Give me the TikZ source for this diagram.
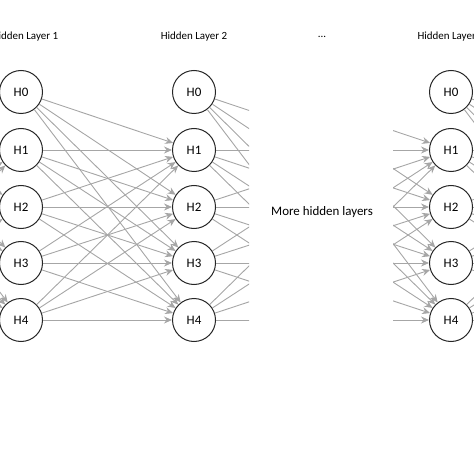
\documentclass[tikz,border=0pt]{standalone}
\usepackage{fontspec}
\setmainfont{Carlito}
\usetikzlibrary{arrows.meta}

\tikzset{
  neuron/.style={circle, draw=black!85, line width=1bp, minimum size=43bp, inner sep=0pt, font=\fontsize{13}{15}\selectfont},
  ghost/.style={circle, minimum size=43bp, inner sep=0pt},
  link/.style={draw=gray!70, line width=0.9bp, -{Stealth[length=8bp,width=7bp]}},
  title/.style={font=\fontsize{11}{13}\selectfont}
}

\begin{document}
\begin{tikzpicture}[x=1bp, y=-1bp]
        \useasboundingbox (0,0) rectangle (474,474);
        %%Layers
        \foreach \i/\y in {0/92,1/150,2/207,3/263,4/320}{
            \node[ghost] (in\i) at (-152,\y) {};
            \node[neuron] (a\i) at (21,\y) {H\i};
            \node[neuron] (b\i) at (194,\y) {H\i};
            \node[ghost] (u\i) at (367,\y) {};
            \node[ghost] (v\i) at (278,\y) {};
            \node[neuron] (c\i) at (451,\y) {H\i};
            \node[ghost] (out\i) at (624,\y) {};
        }
        %%Titles
        \node[title] (ta) at (25,37) {Hidden Layer 1};
        \node[title] (tb) at (194,37) {Hidden Layer 2};
        \node[title] (tdots) at (322,37) {...};
        \node[title, anchor=west] (tc) at (414,37) {Hidden Layer N};
        \node[font=\fontsize{13}{15}\selectfont] (more) at (322,212) {More hidden layers};
        %%Connections
        \foreach \i in {0,...,4}{
            \foreach \j in {1,...,4}{
                \draw[link] (in\i) -- (a\j);
                \draw[link] (a\i) -- (b\j);
                \draw[link] (c\i) -- (out\j);
            }
        }
        \begin{scope}
            \clip (0,0) rectangle (249,474);
            \foreach \i in {0,...,4}{
                \foreach \j in {1,...,4}{
                    \draw[link] (b\i) -- (u\j);
                }
            }
        \end{scope}
        \begin{scope}
            \clip (393,0) rectangle (474,474);
            \foreach \i in {0,...,4}{
                \foreach \j in {1,...,4}{
                    \draw[link] (v\i) -- (c\j);
                }
            }
        \end{scope}
\end{tikzpicture}
\end{document}
